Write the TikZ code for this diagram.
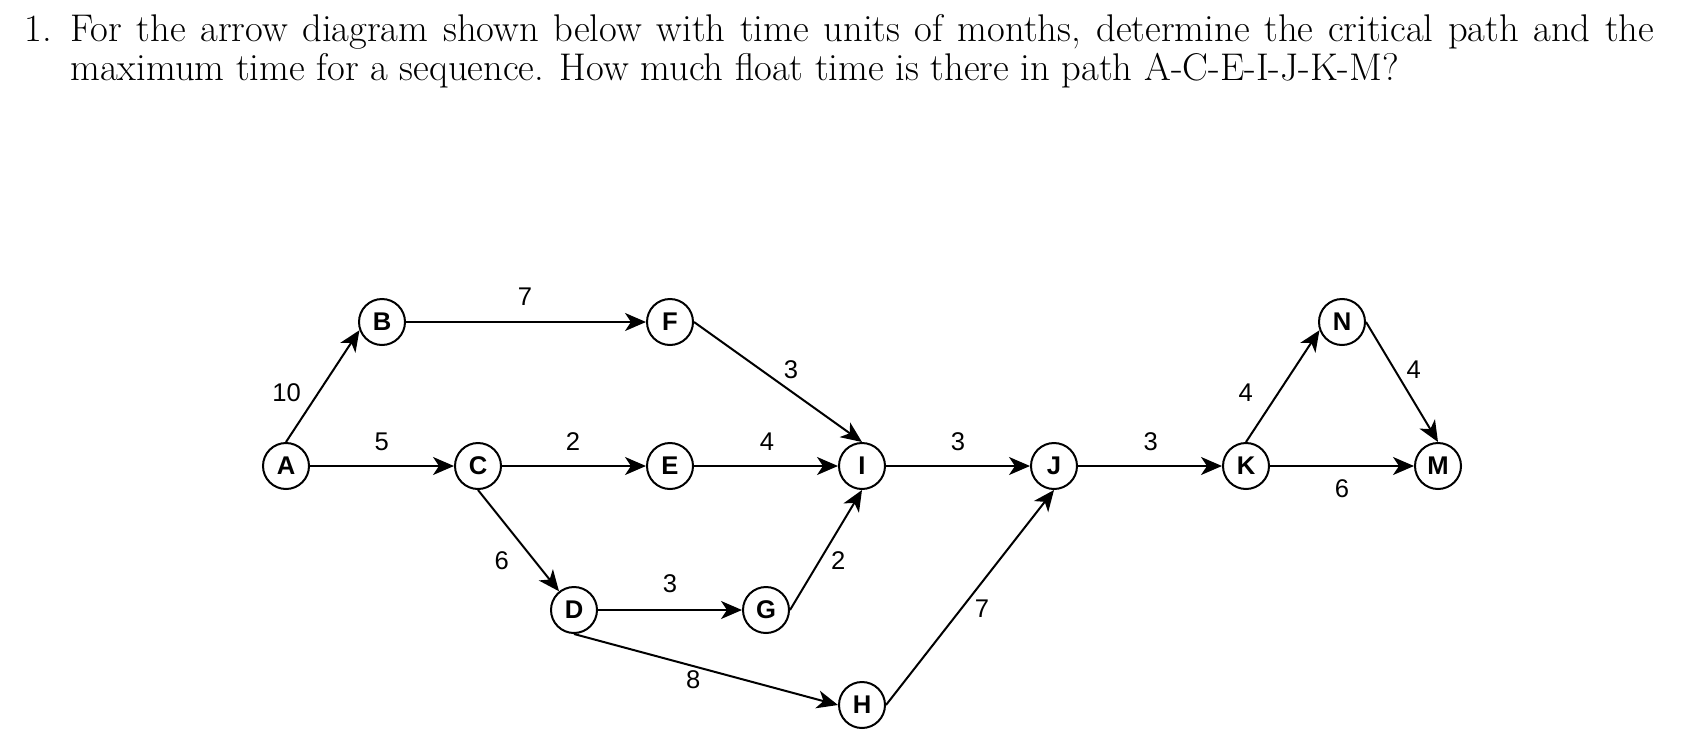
\documentclass[tikz,border=0pt]{standalone}
\usepackage{fontspec}
\newfontfamily\arialfont{Liberation Sans}
\usetikzlibrary{arrows.meta}
\begin{document}
\begin{tikzpicture}[x=0.5pt,y=-0.5pt,
  ev/.style={circle,draw,line width=1pt,minimum size=23pt,inner sep=0pt,
    font=\arialfont\bfseries\fontsize{12.8}{14}\selectfont},
  lbl/.style={font=\arialfont\fontsize{12.8}{14}\selectfont,inner sep=0pt},
  arr/.style={line width=1pt,-{Stealth[length=10.5pt,width=9pt,inset=3pt]}},
  ttl/.style={anchor=base west,inner sep=0pt,font=\fontsize{19.3}{23}\selectfont}]
\useasboundingbox (0,0) rectangle (1696,744);
% title
\node[ttl] (num) at (24,41) {1.};
\node[ttl] (t1) at (70,41) {\hbox to 792pt{For the arrow diagram shown below with time units of months, determine the critical path and the}};
\node[ttl] (t2) at (70,80) {maximum time for a sequence. How much float time is there in path A-C-E-I-J-K-M?};
% events
\node[ev] (A) at (286,466) {A};
\node[ev] (B) at (382,322) {B};
\node[ev] (C) at (478,466) {C};
\node[ev] (D) at (574,610) {D};
\node[ev] (E) at (670,466) {E};
\node[ev] (F) at (670,322) {F};
\node[ev] (G) at (766,610) {G};
\node[ev] (H) at (862,705) {H};
\node[ev] (I) at (862,466) {I};
\node[ev] (J) at (1054,466) {J};
\node[ev] (K) at (1246,466) {K};
\node[ev] (M) at (1438,466) {M};
\node[ev] (N) at (1342,322) {N};
% activities
\draw[arr] (A.north) -- (B.200);
\draw[arr] (A) -- (C);
\draw[arr] (B) -- (F);
\draw[arr] (C) -- (E);
\draw[arr] (C.south) -- (D);
\draw[arr] (E) -- (I);
\draw[arr] (F.east) -- (I.north);
\draw[arr] (D) -- (G);
\draw[arr] (D.south) -- (H.west);
\draw[arr] (G.east) -- (I.south);
\draw[arr] (I) -- (J);
\draw[arr] (H.east) -- (J.south);
\draw[arr] (J) -- (K);
\draw[arr] (K.north) -- (N.200);
\draw[arr] (N.east) -- (M.north);
\draw[arr] (K) -- (M);
% durations
\node[lbl] (l1) at (286.7,393) {10};
\node[lbl] (l2) at (525,297) {7};
\node[lbl] (l3) at (381.7,441.7) {5};
\node[lbl] (l4) at (573,441.7) {2};
\node[lbl] (l5) at (767,441.7) {4};
\node[lbl] (l6) at (791,370) {3};
\node[lbl] (l7) at (958,441.7) {3};
\node[lbl] (l8) at (1150.7,441.7) {3};
\node[lbl] (l9) at (1245.7,393) {4};
\node[lbl] (l10) at (1413.6,370) {4};
\node[lbl] (l11) at (1342,489) {6};
\node[lbl] (l12) at (501.7,560.7) {6};
\node[lbl] (l13) at (670,584) {3};
\node[lbl] (l14) at (838.3,560.7) {2};
\node[lbl] (l15) at (693.3,680) {8};
\node[lbl] (l16) at (982,609) {7};
\end{tikzpicture}
\end{document}
